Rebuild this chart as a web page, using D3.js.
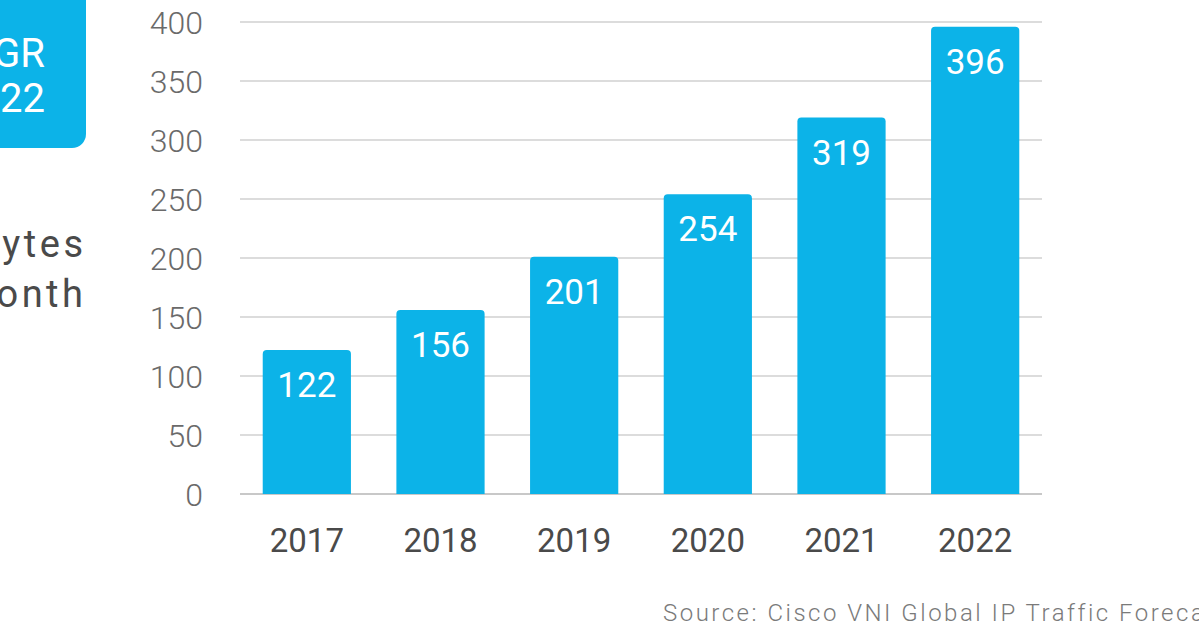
<!DOCTYPE html>
<html>
<head>
<meta charset="utf-8">
<script src="https://cdn.jsdelivr.net/npm/d3@7"></script>
<style>
  html, body { margin: 0; padding: 0; background: #fff; }
  svg { display: block; font-family: Roboto, "Helvetica Neue", Arial, sans-serif; }
</style>
</head>
<body>
<svg id="chart" width="1199" height="630"></svg>
<script>
// Data
const years = ["2017", "2018", "2019", "2020", "2021", "2022"];
const traffic = [122, 156, 201, 254, 319, 396];
const yTicks = [0, 50, 100, 150, 200, 250, 300, 350, 400];
const badgeLines = ["26% CAGR", "2017–2022"];
const unitLines = ["Exabytes", "per Month"];
const sourceText = "Source: Cisco VNI Global IP Traffic Forecast, 2017–2022";

(function () {
const barColor = "#0cb3e8";
const svg = d3.select("#chart");

const plotLeft = 240, plotRight = 1042, plotTop = 22, plotBottom = 494;

const x = d3.scaleBand().domain(years).range([plotLeft, plotRight]).paddingInner(0.34).paddingOuter(0.17);
const y = d3.scaleLinear().domain([0, 400]).range([plotBottom, plotTop]);

// Gridlines
svg.append("g").selectAll("line").data(yTicks).join("line")
  .attr("x1", plotLeft).attr("x2", plotRight)
  .attr("y1", d => y(d)).attr("y2", d => y(d))
  .attr("stroke", d => d === 0 ? "#c8c8c8" : "#dcdcdc")
  .attr("stroke-width", 2);

// Y axis labels
const yAxis = d3.axisLeft(y).tickValues(yTicks).tickSize(0).tickPadding(0);
const gy = svg.append("g").attr("transform", "translate(203,0)").call(yAxis);
gy.select(".domain").remove();
gy.selectAll("text")
  .attr("font-size", 32).attr("font-weight", 300).attr("fill", "#6a6a6a")
  .attr("font-family", "Roboto, sans-serif").attr("dy", "0.36em");

// Bars with rounded top corners
const r = 4;
function barPath(d, i) {
  const x0 = x(years[i]), w = x.bandwidth();
  const y0 = y(d), y1 = y(0);
  return `M${x0},${y1} V${y0 + r} Q${x0},${y0} ${x0 + r},${y0} H${x0 + w - r} Q${x0 + w},${y0} ${x0 + w},${y0 + r} V${y1} Z`;
}
svg.append("g").selectAll("path").data(traffic).join("path")
  .attr("d", barPath)
  .attr("fill", barColor);

// Value labels
svg.append("g").selectAll("text").data(traffic).join("text")
  .attr("x", (d, i) => x(years[i]) + x.bandwidth() / 2)
  .attr("y", d => y(d) + 47)
  .attr("text-anchor", "middle")
  .attr("font-size", 35)
  .attr("fill", "#ffffff")
  .text(d => d);

// X axis labels
const xAxis = d3.axisBottom(x).tickSize(0).tickPadding(0);
const gx = svg.append("g").attr("transform", "translate(0,552)").call(xAxis);
gx.select(".domain").remove();
gx.selectAll("text")
  .attr("font-size", 33).attr("fill", "#4a4a4a")
  .attr("font-family", "Roboto, sans-serif").attr("dy", 0);

// Badge (cropped at left edge)
svg.append("rect")
  .attr("x", -200).attr("y", -14).attr("width", 286).attr("height", 162)
  .attr("rx", 14).attr("fill", barColor);
svg.append("g").selectAll("text").data(badgeLines).join("text")
  .attr("x", 45).attr("y", (d, i) => 67 + i * 45)
  .attr("text-anchor", "end")
  .attr("font-size", 40)
  .attr("fill", "#ffffff")
  .text(d => d);

// Unit label (cropped)
const ls = 3.5;
svg.append("g").selectAll("text").data(unitLines).join("text")
  .attr("x", 83 + ls).attr("y", (d, i) => 257 + i * 50)
  .attr("text-anchor", "end")
  .attr("font-size", 38)
  .attr("letter-spacing", ls)
  .attr("fill", "#4a4a4a")
  .text(d => d);

// Source
svg.append("text")
  .attr("x", 663).attr("y", 621)
  .attr("font-size", 24).attr("font-weight", 300)
  .attr("letter-spacing", 2.5)
  .attr("fill", "#7a7a7a")
  .text(sourceText);
})();
</script>
</body>
</html>
